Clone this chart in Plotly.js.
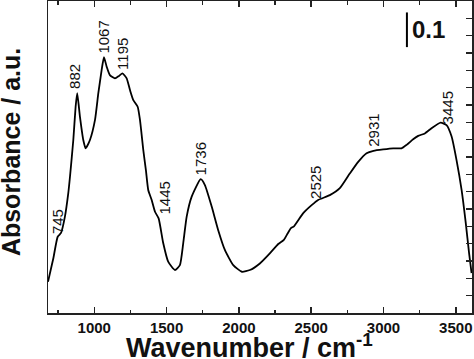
<!DOCTYPE html>
<html>
<head>
<meta charset="utf-8">
<script src="https://cdn.plot.ly/plotly-3.0.1.min.js"></script>
<style>html,body{margin:0;padding:0;background:#fff;}#chart{width:474px;height:359px;}</style>
</head>
<body>
<div id="chart"></div>
<script>
// FTIR spectrum
const wavenumber = [680, 717, 747, 770, 797, 820, 832, 855, 871, 882,
  901, 924, 940, 970, 1005, 1028, 1051, 1067, 1086, 1108,
  1143, 1171, 1195, 1224, 1247, 1270, 1300, 1316, 1339, 1357,
  1373, 1397, 1420, 1445, 1477, 1511, 1558, 1592, 1615, 1639,
  1673, 1736, 1765, 1812, 1857, 1903, 1961, 2021, 2076, 2145,
  2214, 2272, 2311, 2339, 2360, 2381, 2445, 2503, 2548, 2629,
  2698, 2768, 2825, 2883, 2931, 2998, 3067, 3125, 3160, 3205,
  3240, 3286, 3332, 3395, 3436, 3471, 3505, 3540, 3569, 3592, 3609];
const absorbance = [0.090, 0.158, 0.220, 0.231, 0.278, 0.345, 0.393, 0.499, 0.595, 0.634,
  0.566, 0.499, 0.475, 0.499, 0.557, 0.634, 0.701, 0.738, 0.710, 0.686,
  0.677, 0.684, 0.691, 0.677, 0.643, 0.614, 0.595, 0.557, 0.470, 0.412,
  0.355, 0.326, 0.292, 0.273, 0.201, 0.148, 0.124, 0.138, 0.201, 0.278,
  0.335, 0.386, 0.369, 0.307, 0.239, 0.182, 0.138, 0.119, 0.124, 0.143,
  0.172, 0.199, 0.211, 0.231, 0.245, 0.250, 0.288, 0.311, 0.326, 0.340,
  0.360, 0.403, 0.436, 0.461, 0.468, 0.472, 0.475, 0.475, 0.485, 0.501,
  0.511, 0.518, 0.533, 0.549, 0.542, 0.509, 0.441, 0.355, 0.259, 0.172, 0.115];
const peakLabels = ['745', '882', '1067', '1195', '1445', '1736', '2525', '2931', '3445'];
const scaleBarLabel = '0.1';
const scaleBarSize = 0.1;
const xTitle = 'Wavenumber / cm<sup>-1</sup>';
const yTitle = 'Absorbance / a.u.';

function curveAt(w) {
  for (let i = 0; i < wavenumber.length - 1; i++) {
    if (w >= wavenumber[i] && w <= wavenumber[i + 1]) {
      const t = (w - wavenumber[i]) / (wavenumber[i + 1] - wavenumber[i]);
      return absorbance[i] + t * (absorbance[i + 1] - absorbance[i]);
    }
  }
  return absorbance[absorbance.length - 1];
}

const FONT = 'Liberation Sans, Arial, Helvetica, sans-serif';
const INK = '#111';

const annotations = peakLabels.map(l => ({
  x: Number(l), y: curveAt(Number(l)), xref: 'x', yref: 'y',
  text: l, showarrow: false, textangle: -90,
  xanchor: 'center', yanchor: 'bottom', yshift: 2,
  xshift: l === '1445' ? 6 : (l === '882' ? -3 : 0),
  font: {family: FONT, size: 15, color: INK}
}));
annotations.push({
  x: 3180, y: 0.817, xref: 'x', yref: 'y', text: scaleBarLabel, showarrow: false,
  xanchor: 'left', yanchor: 'middle',
  font: {family: FONT, size: 24, color: INK, weight: 'bold'}
});
// axis titles
annotations.push({
  x: 0.476, y: -0.107, xref: 'paper', yref: 'paper', text: xTitle, showarrow: false,
  xanchor: 'center', yanchor: 'middle',
  font: {family: FONT, size: 27, color: INK, weight: 'bold'}
});
annotations.push({
  x: -0.087, y: 0.516, xref: 'paper', yref: 'paper', text: yTitle, showarrow: false,
  textangle: -90, xanchor: 'center', yanchor: 'middle',
  font: {family: FONT, size: 25, color: INK, weight: 'bold'}
});

const trace = {
  x: wavenumber, y: absorbance, type: 'scatter', mode: 'lines',
  line: {color: '#000', width: 1.8, shape: 'spline', smoothing: 0.5},
  hoverinfo: 'skip', showlegend: false
};
// empty trace so that the right-hand tick axis is drawn
const rightAxisHolder = {x: [], y: [], type: 'scatter', mode: 'lines', yaxis: 'y2', hoverinfo: 'skip', showlegend: false};

const layout = {
  width: 474, height: 359,
  margin: {l: 48, r: 2, t: 1, b: 46, pad: 0},
  paper_bgcolor: '#fff', plot_bgcolor: '#fff',
  showlegend: false,
  xaxis: {
    range: [680, 3612], dtick: 500, tick0: 0,
    ticks: 'inside', ticklen: 6, tickwidth: 1.5, tickcolor: '#222',
    minor: {dtick: 250, tick0: 0, ticks: 'inside', ticklen: 3.5, tickwidth: 1.5, tickcolor: '#222'},
    showline: true, linewidth: 1.5, linecolor: '#222', mirror: 'ticks',
    showgrid: false, zeroline: false,
    tickfont: {family: FONT, size: 15, color: INK, weight: 'bold'},
    automargin: false
  },
  yaxis: {
    range: [0, 0.9], showticklabels: false, ticks: '',
    showline: true, linewidth: 1.5, linecolor: '#222', mirror: true,
    showgrid: false, zeroline: false,
    automargin: false
  },
  yaxis2: {
    overlaying: 'y', side: 'right', range: [0, 0.9], dtick: 0.05, tick0: 0,
    ticks: 'inside', ticklen: 6, tickwidth: 1.5, tickcolor: '#222',
    showticklabels: false, showgrid: false, zeroline: false, showline: false
  },
  shapes: [{
    type: 'line', xref: 'x', yref: 'y', x0: 3162, x1: 3162, y0: 0.767, y1: 0.767 + scaleBarSize,
    line: {color: '#000', width: 2}
  }],
  annotations: annotations
};

Plotly.newPlot('chart', [trace, rightAxisHolder], layout, {staticPlot: true, displayModeBar: false});
</script>
</body>
</html>
